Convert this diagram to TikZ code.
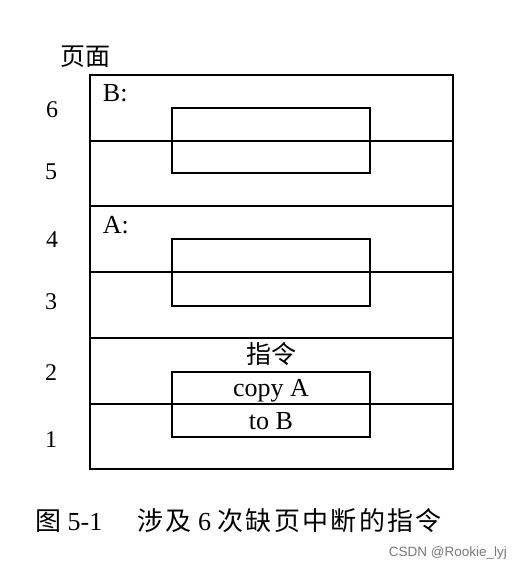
\documentclass[tikz,border=0pt]{standalone}
\usepackage{fontspec}
\setmainfont{Liberation Serif}
\newfontfamily\cjk{Noto Sans CJK SC}
\newfontfamily\cjkwide[LetterSpace=9]{Noto Sans CJK SC}
\newfontfamily\wmfont{Liberation Sans}

\tikzset{
  pageline/.style={line width=1.5pt},
  pagenum/.style={inner sep=0.75pt, font=\fontsize{24}{27}\selectfont},
  boxtext/.style={inner sep=0.75pt, font=\fontsize{26}{29}\selectfont},
  cjktext/.style={inner sep=0.75pt, font=\cjk\fontsize{25}{28}\selectfont}
}

\begin{document}
\begin{tikzpicture}[x=1pt,y=-1pt]
\useasboundingbox (0,0) rectangle (523,569);
%Shape: Rectangle [id:pages]
\draw [pageline] (90,75) rectangle (453,469) ;
%Straight Lines [id:row56]
\draw [pageline] (90,141) -- (453,141) ;
%Straight Lines [id:row45]
\draw [pageline] (90,206) -- (453,206) ;
%Straight Lines [id:row34]
\draw [pageline] (90,272) -- (453,272) ;
%Straight Lines [id:row23]
\draw [pageline] (90,338) -- (453,338) ;
%Straight Lines [id:row12]
\draw [pageline] (90,404) -- (453,404) ;
%Shape: Rectangle [id:boxB]
\draw [pageline] (172,108) rectangle (370,173) ;
%Shape: Rectangle [id:boxA]
\draw [pageline] (172,239) rectangle (370,306) ;
%Shape: Rectangle [id:boxInstr]
\draw [pageline] (172,372) rectangle (370,437) ;
% Text Node
\draw (85,57) node [cjktext] (pagehead) {页面};
% Text Node
\draw (52,110) node [pagenum] (p6) {6};
% Text Node
\draw (51,172) node [pagenum] (p5) {5};
% Text Node
\draw (52,240) node [pagenum] (p4) {4};
% Text Node
\draw (51,302) node [pagenum] (p3) {3};
% Text Node
\draw (51,373) node [pagenum] (p2) {2};
% Text Node
\draw (51,440) node [pagenum] (p1) {1};
% Text Node
\draw (102,93) node [anchor=west][boxtext] (labB) {B:};
% Text Node
\draw (102,225) node [anchor=west][boxtext] (labA) {A:};
% Text Node
\draw (271,354) node [cjktext] (instr) {指令};
% Text Node
\draw (271,391) node [boxtext] (copyA) {copy A};
% Text Node
\draw (271,421) node [boxtext] (toB) {to B};
% Text Node
\draw (35,521) node [anchor=west][inner sep=0pt, font=\fontsize{26}{29}\selectfont] (fignum) {{\cjk 图} 5-1};
% Text Node
\draw (137,521) node [anchor=west][inner sep=0pt, font=\fontsize{26}{29}\selectfont] (caption) {{\cjkwide 涉及} 6 {\cjkwide 次缺页中断的指令}};
% Text Node
\draw (507,553) node [anchor=east][inner sep=0pt, font=\wmfont\fontsize{13.5}{15}\selectfont, color={rgb, 255:red, 120; green, 120; blue, 120 }] (mark) {CSDN @Rookie\_lyj};
\end{tikzpicture}
\end{document}
